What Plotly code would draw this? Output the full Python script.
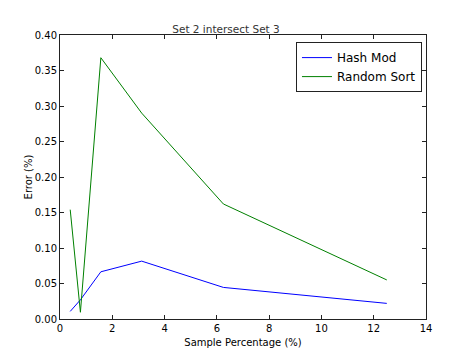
import plotly.graph_objects as go

sample_pct = [0.390625, 0.78125, 1.5625, 3.125, 6.25, 12.5]
hash_mod = [0.0107, 0.027, 0.0665, 0.0815, 0.0445, 0.022]
random_sort = [0.154, 0.0095, 0.368, 0.290, 0.162, 0.055]
x_ticks = [0, 2, 4, 6, 8, 10, 12, 14]
y_ticks = [0.00, 0.05, 0.10, 0.15, 0.20, 0.25, 0.30, 0.35, 0.40]

FONT = "DejaVu Sans"

fig = go.Figure()
fig.add_trace(go.Scatter(x=sample_pct, y=hash_mod, mode="lines", name="Hash Mod",
                         line=dict(color="#0000ff", width=1)))
fig.add_trace(go.Scatter(x=sample_pct, y=random_sort, mode="lines", name="Random Sort",
                         line=dict(color="#008000", width=1)))

axis_common = dict(showgrid=False, zeroline=False, showline=True, linecolor="#222",
                   linewidth=1, mirror="allticks", ticks="inside", ticklen=4,
                   tickcolor="#222", tickfont=dict(family=FONT, size=10, color="black"))

fig.update_layout(
    width=474, height=355,
    margin=dict(l=60, r=48, t=35, b=36, autoexpand=False),
    paper_bgcolor="white", plot_bgcolor="white",
    font=dict(family=FONT, color="black"),
    title=dict(text="Set 2 intersect Set 3", x=226/474, xanchor="center",
               y=1 - 29/355, yanchor="middle", font=dict(family=FONT, size=10.5, color="#333")),
    xaxis=dict(range=[0, 14], tickvals=x_ticks, ticktext=[str(v) for v in x_ticks],
               title=dict(text="Sample Percentage (%)", standoff=5,
                          font=dict(family=FONT, size=10, color="black")),
               **axis_common),
    yaxis=dict(range=[0, 0.40], tickvals=y_ticks, ticktext=[f"{v:.2f}" for v in y_ticks],
               title=dict(text="Error (%)", standoff=0,
                          font=dict(family=FONT, size=10, color="black")),
               **axis_common),
    legend=dict(x=0.989, y=0.975, xanchor="right", yanchor="top",
                bordercolor="#222", borderwidth=1, bgcolor="white",
                font=dict(family=FONT, size=12, color="black"),
                tracegroupgap=0, itemwidth=30),
    showlegend=True,
)

fig.write_html("out.html")
